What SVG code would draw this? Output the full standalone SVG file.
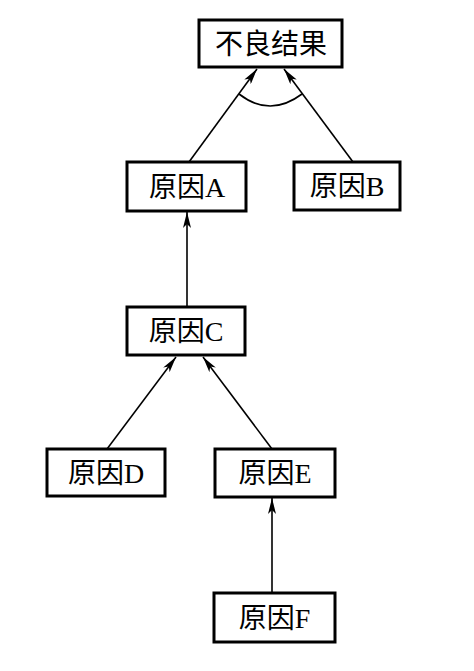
<svg xmlns="http://www.w3.org/2000/svg" width="474" height="671" viewBox="0 0 474 671">
<style>
.box{fill:#fff;stroke:#000;stroke-width:3}
.lbl{font-family:"Liberation Serif","Noto Sans CJK SC",serif;font-size:28px;fill:#000;text-anchor:middle;dominant-baseline:central}
.ln{stroke:#000;stroke-width:1.6;fill:none;marker-end:url(#ah)}
</style>
<defs>
<marker id="ah" viewBox="0 0 16 8" refX="16" refY="4" markerWidth="16" markerHeight="8" markerUnits="userSpaceOnUse" orient="auto">
<path d="M0,0 L16,4 L0,8 L4,4 Z" fill="#000"/>
</marker>
</defs>
<rect width="474" height="671" fill="#fff"/>
<g id="connectors">
<line class="ln" x1="189" y1="162" x2="257" y2="69"/>
<line class="ln" x1="353" y1="162" x2="284" y2="69"/>
<path d="M239,94 Q270,118 302,94" stroke="#000" stroke-width="1.6" fill="none"/>
<line class="ln" x1="187" y1="307" x2="187" y2="212"/>
<line class="ln" x1="107" y1="449" x2="176" y2="357"/>
<line class="ln" x1="272" y1="449" x2="203" y2="357"/>
<line class="ln" x1="272" y1="593" x2="272" y2="498"/>
</g>
<g id="top"><rect class="box" x="199" y="20" width="143" height="47"/><text class="lbl" x="271" y="44">不良结果</text></g>
<g id="A"><rect class="box" x="127" y="162" width="119" height="49"/><text class="lbl" x="187" y="187">原因A</text></g>
<g id="B"><rect class="box" x="294" y="162" width="106" height="48"/><text class="lbl" x="347" y="186">原因B</text></g>
<g id="C"><rect class="box" x="127" y="307" width="118" height="48"/><text class="lbl" x="186" y="331">原因C</text></g>
<g id="D"><rect class="box" x="47" y="449" width="118" height="47"/><text class="lbl" x="106" y="473">原因D</text></g>
<g id="E"><rect class="box" x="215" y="449" width="120" height="48"/><text class="lbl" x="275" y="473">原因E</text></g>
<g id="F"><rect class="box" x="214" y="593" width="121" height="49"/><text class="lbl" x="274.5" y="618">原因F</text></g>
</svg>
